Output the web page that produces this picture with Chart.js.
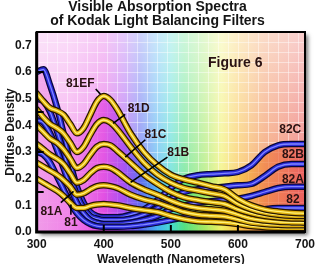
<!DOCTYPE html>
<html>
<head>
<meta charset="utf-8">
<script src="https://cdn.jsdelivr.net/npm/chart.js@4.4.1/dist/chart.umd.min.js"></script>
<style>
  html, body { margin: 0; padding: 0; background: #fff; }
  #wrap { width: 317px; height: 264px; }
</style>
</head>
<body>
<div id="wrap"><canvas id="grafica" width="317" height="264"></canvas></div>
<script>
// longitudes de onda (nm)
const wavelengths = [300,310,320,330,340,350,360,370,380,390,400,410,420,440,460,480,500,520,540,560,580,600,620,640,660,680,700];

// serie 81 (ambar)
const s81EF = [.52,.49,.465,.455,.44,.405,.37,.39,.44,.49,.51,.495,.46,.37,.30,.25,.215,.197,.185,.172,.16,.125,.10,.085,.077,.072,.07];
const s81D  = [.46,.43,.405,.39,.37,.335,.30,.32,.365,.405,.42,.41,.385,.32,.26,.215,.185,.165,.155,.145,.135,.105,.085,.072,.065,.061,.06];
const s81C  = [.40,.375,.35,.335,.31,.275,.24,.255,.29,.32,.33,.325,.305,.26,.215,.18,.15,.13,.12,.112,.105,.085,.07,.06,.054,.051,.05];
const s81B  = [.33,.31,.29,.275,.255,.22,.185,.195,.22,.24,.245,.24,.225,.186,.16,.14,.118,.10,.09,.085,.08,.065,.05,.043,.038,.036,.035];
const s81A  = [.26,.245,.23,.215,.195,.17,.14,.145,.16,.172,.175,.172,.165,.14,.122,.11,.092,.075,.065,.061,.058,.047,.035,.03,.027,.025,.025];
const s81   = [.20,.185,.17,.155,.135,.11,.09,.09,.098,.103,.105,.103,.10,.09,.082,.075,.06,.048,.04,.038,.036,.03,.022,.018,.016,.015,.015];

// serie 82 (azul)
const s82C = [.60,.61,.55,.47,.37,.26,.17,.11,.075,.06,.055,.055,.055,.065,.085,.12,.165,.20,.213,.217,.22,.225,.25,.30,.325,.33,.33];
const s82B = [.50,.49,.45,.38,.30,.21,.14,.09,.06,.05,.045,.045,.045,.05,.065,.09,.125,.15,.16,.165,.17,.175,.18,.21,.245,.255,.255];
const s82A = [.42,.41,.37,.31,.24,.17,.11,.07,.045,.035,.03,.03,.03,.035,.045,.06,.085,.10,.11,.115,.12,.125,.135,.15,.165,.17,.17];
const s82  = [.30,.29,.26,.21,.16,.11,.07,.045,.03,.022,.02,.02,.02,.022,.028,.035,.045,.055,.06,.063,.066,.07,.075,.085,.09,.09,.09];

// ticks
const yTickLabels = [0, 0.1, 0.2, 0.3, 0.4, 0.5, 0.6, 0.7];
const xTickLabels = [300, 400, 500, 600, 700];
const yMarks = [0.15, 0.3, 0.45, 0.6];
const xMarks = [400, 500, 600];

// etiquetas de curvas: [texto, x, y, linea desde, linea hasta]
const etiquetas = [
  ['81EF', 365, 0.555, [388, 0.536], [395, 0.517]],
  ['81D', 452, 0.464, [432, 0.441], [414, 0.407]],
  ['81C', 477, 0.365, [462, 0.346], [432, 0.281]],
  ['81B', 511, 0.297, [495, 0.281], [440, 0.186]],
  ['81A', 322, 0.076, [336, 0.11], [355, 0.152]],
  ['81', 351, 0.034, [351, 0.103], [351, 0.065]],
  ['82C', 678, 0.384],
  ['82B', 682, 0.289],
  ['82A', 682, 0.198],
  ['82', 682, 0.122],
  ['Figure 6', 596, 0.635]
];

const espectro = [
  [0, [240,154,232]], [0.125, [240,128,232]], [0.25, [224,64,224]], [0.325, [160,64,240]],
  [0.3875, [80,96,240]], [0.45, [64,176,240]], [0.5, [64,216,208]], [0.55, [80,224,128]],
  [0.625, [160,232,96]], [0.6875, [240,240,96]], [0.75, [248,192,64]], [0.85, [240,128,64]], [1, [232,80,80]]
];

function gradEspectro(c, area, alpha) {
  const g = c.createLinearGradient(area.left, 0, area.right, 0);
  espectro.forEach(([f, rgb]) => g.addColorStop(f, `rgba(${rgb[0]},${rgb[1]},${rgb[2]},${alpha})`));
  return g;
}

const FONT = 'Liberation Sans, Arial, sans-serif';

const curvas = [
  { nombre: '82C', datos: s82C, tipo: 'azul', relleno: true },
  { nombre: '82B', datos: s82B, tipo: 'azul' },
  { nombre: '82A', datos: s82A, tipo: 'azul' },
  { nombre: '82', datos: s82, tipo: 'azul' },
  { nombre: '81', datos: s81, tipo: 'oro' },
  { nombre: '81A', datos: s81A, tipo: 'oro' },
  { nombre: '81B', datos: s81B, tipo: 'oro' },
  { nombre: '81C', datos: s81C, tipo: 'oro' },
  { nombre: '81D', datos: s81D, tipo: 'oro' },
  { nombre: '81EF', datos: s81EF, tipo: 'oro', relleno: true }
];

const capas = {
  oro:  [['#2a1800', 6.5], ['#e2b20e', 4], ['#fff27a', 1.3]],
  azul: [['#08083a', 6.5], ['#2a2ad8', 4], ['#8088ff', 1.3]]
};

const datasets = [];
let k = 0;
const total = curvas.length * 3;
curvas.forEach(cv => {
  capas[cv.tipo].forEach(([color, ancho], i) => {
    datasets.push({
      label: cv.nombre,
      data: wavelengths.map((w, j) => ({ x: w, y: cv.datos[j] })),
      borderColor: color,
      borderWidth: ancho,
      pointRadius: 0,
      cubicInterpolationMode: 'monotone',
      borderCapStyle: 'round',
      borderJoinStyle: 'round',
      fill: (i === 0 && cv.relleno) ? 'origin' : false,
      backgroundColor: (ctx) => {
        const a = ctx.chart.chartArea;
        if (!a) return 'transparent';
        return gradEspectro(ctx.chart.ctx, a, 0.7);
      },
      order: total - k
    });
    k++;
  });
});

const fondo = {
  id: 'fondo',
  beforeDraw(chart) {
    const { ctx, chartArea: a } = chart;
    ctx.save();
    ctx.shadowColor = 'rgba(0,0,0,0.55)';
    ctx.shadowBlur = 4;
    ctx.shadowOffsetX = 3;
    ctx.shadowOffsetY = 3;
    ctx.fillStyle = '#fff';
    ctx.fillRect(a.left, a.top, a.width, a.height);
    ctx.restore();
    ctx.save();
    ctx.fillStyle = gradEspectro(ctx, a, 1);
    ctx.fillRect(a.left, a.top, a.width, a.height);
    const v = ctx.createLinearGradient(0, a.top, 0, a.bottom);
    v.addColorStop(0, 'rgba(255,255,255,0.72)');
    v.addColorStop(1, 'rgba(255,255,255,0.2)');
    ctx.fillStyle = v;
    ctx.fillRect(a.left, a.top, a.width, a.height);
    // rejilla
    const x = chart.scales.x, y = chart.scales.y;
    ctx.strokeStyle = 'rgba(255,255,255,0.45)';
    ctx.lineWidth = 1;
    ctx.beginPath();
    for (let w = 300; w < 700; w += 15) {
      const px = Math.round(x.getPixelForValue(w)) + 0.5;
      ctx.moveTo(px, a.top); ctx.lineTo(px, a.bottom);
    }
    for (let d = 0; d < 0.75; d += 0.0375) {
      const py = Math.round(y.getPixelForValue(d)) + 0.5;
      ctx.moveTo(a.left, py); ctx.lineTo(a.right, py);
    }
    ctx.stroke();
    ctx.restore();
  },
  afterDraw(chart) {
    const { ctx, chartArea: a } = chart;
    const x = chart.scales.x, y = chart.scales.y;
    ctx.save();
    // marco
    ctx.strokeStyle = '#000';
    ctx.lineWidth = 2;
    ctx.strokeRect(a.left, a.top, a.width, a.height);
    ctx.lineWidth = 3;
    ctx.beginPath();
    ctx.moveTo(a.left, a.top); ctx.lineTo(a.left, a.bottom); ctx.lineTo(a.right, a.bottom);
    ctx.stroke();
    // marcas interiores
    ctx.lineWidth = 2;
    ctx.beginPath();
    yMarks.forEach(v => {
      const py = y.getPixelForValue(v);
      ctx.moveTo(a.left, py); ctx.lineTo(a.left + 7, py);
    });
    xMarks.forEach(w => {
      const px = x.getPixelForValue(w);
      ctx.moveTo(px, a.bottom); ctx.lineTo(px, a.bottom - 7);
    });
    ctx.stroke();
    // etiquetas
    ctx.fillStyle = '#2a1212';
    ctx.textAlign = 'center';
    ctx.textBaseline = 'middle';
    etiquetas.forEach(([t, lx, ly, p1, p2]) => {
      ctx.font = (t === 'Figure 6' ? 'bold 14px ' : 'bold 12px ') + FONT;
      ctx.fillText(t, x.getPixelForValue(lx), y.getPixelForValue(ly));
      if (p1) {
        ctx.strokeStyle = '#000';
        ctx.lineWidth = 1.6;
        ctx.beginPath();
        ctx.moveTo(x.getPixelForValue(p1[0]), y.getPixelForValue(p1[1]));
        ctx.lineTo(x.getPixelForValue(p2[0]), y.getPixelForValue(p2[1]));
        ctx.stroke();
      }
    });
    // titulos de ejes
    ctx.fillStyle = '#151515';
    ctx.font = 'bold 12px ' + FONT;
    ctx.fillText('Wavelength (Nanometers)', (a.left + a.right) / 2, a.bottom + 28);
    ctx.translate(a.left - 26, (a.top + a.bottom) / 2);
    ctx.rotate(-Math.PI / 2);
    ctx.fillText('Diffuse Density', 0, 0);
    ctx.restore();
  }
};

new Chart(document.getElementById('grafica'), {
  type: 'line',
  data: { datasets },
  options: {
    responsive: false,
    animation: false,
    events: [],
    layout: { autoPadding: false, padding: { left: 10, right: 12, top: 0, bottom: 6 } },
    plugins: {
      legend: { display: false },
      tooltip: { enabled: false },
      filler: { drawTime: 'beforeDatasetsDraw' },
      title: {
        display: true,
        text: ['Visible Absorption Spectra', 'of Kodak Light Balancing Filters'],
        color: '#151515',
        font: { family: FONT, size: 14, weight: 'bold', lineHeight: 1 },
        padding: { top: 0, bottom: 4 }
      }
    },
    scales: {
      x: {
        type: 'linear', min: 300, max: 700,
        afterBuildTicks: s => { s.ticks = xTickLabels.map(v => ({ value: v })); },
        afterFit: s => { s.paddingLeft = 0; s.paddingRight = 0; },
        grid: { display: false, drawTicks: false, tickLength: 0 }, border: { display: false },
        ticks: { color: '#151515', padding: 7, maxRotation: 0, font: { family: FONT, size: 12, weight: 'bold', lineHeight: 1 } }
      },
      y: {
        min: 0, max: 0.75,
        afterBuildTicks: s => { s.ticks = yTickLabels.map(v => ({ value: v })); },
        grid: { display: false, drawTicks: false, tickLength: 0 }, border: { display: false },
        ticks: { color: '#151515', padding: 5, callback: v => v.toFixed(1), font: { family: FONT, size: 12, weight: 'bold' } }
      }
    }
  },
  plugins: [fondo]
});
</script>
</body>
</html>
